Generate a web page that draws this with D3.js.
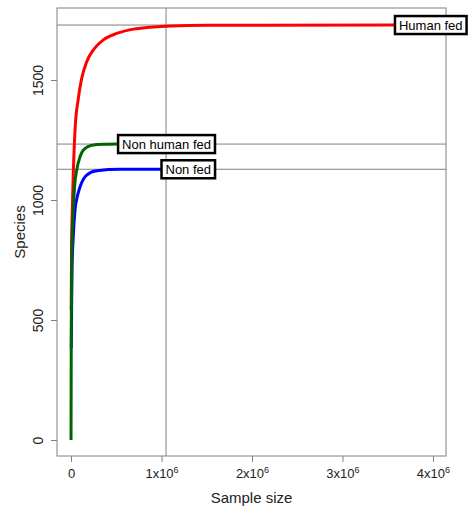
<!DOCTYPE html>
<html><head><meta charset="utf-8">
<script src="https://cdn.jsdelivr.net/npm/d3@7"></script>
<style>body{margin:0;background:#fff;} text{font-family:"Liberation Sans",Arial,sans-serif;}</style>
</head><body>
<svg id="c" width="474" height="512"></svg>
<script>
const seriesNames = ["Human fed", "Non human fed", "Non fed"];
const seriesColors = ["#ff0000", "#006400", "#0000ff"];
const humanFed = [[2000,540],[6000,800],[14000,958],[25000,1110],[44000,1290],[81000,1424],[118000,1507],[173000,1576],[246000,1625],[357000,1667],[505000,1694],[690000,1712],[910000,1721],[1100000,1725],[1500000,1728],[3580000,1729]];
const nonHumanFed = [[0,0],[3000,500],[10000,800],[25000,958],[40000,1060],[63000,1125],[100000,1180],[136000,1208],[246000,1229],[360000,1232],[520000,1233]];
const nonFed = [[3000,383],[10000,700],[25000,850],[44000,958],[70000,1015],[100000,1055],[173000,1104],[284000,1122],[540000,1128],[1000000,1128]];
const hLines = [1729, 1233, 1128];
const vLines = [1050000];
const yTicks = [0, 500, 1000, 1500];
const xTicks = [0, 1e6, 2e6, 3e6, 4e6];
const xTickLabels = ["0", "1x10|6", "2x10|6", "3x10|6", "4x10|6"];

const svg = d3.select("#c");
const L = 57, R = 446, T = 8, B = 456;
const x = d3.scaleLinear().domain([-155000, 4144000]).range([L, R]);
const y = d3.scaleLinear().domain([-66.7, 1800]).range([B, T]);
const grey = "#808080";

// reference lines
svg.selectAll(".hl").data(hLines).enter().append("line")
  .attr("x1", L).attr("x2", R).attr("y1", d => y(d)).attr("y2", d => y(d))
  .attr("stroke", grey).attr("stroke-width", 1);
svg.selectAll(".vl").data(vLines).enter().append("line")
  .attr("x1", d => x(d)).attr("x2", d => x(d)).attr("y1", T).attr("y2", B)
  .attr("stroke", grey).attr("stroke-width", 1);

// box
svg.append("rect").attr("x", L).attr("y", T).attr("width", R - L).attr("height", B - T)
  .attr("fill", "none").attr("stroke", grey).attr("stroke-width", 1);

// axes
const yAxis = d3.axisLeft(y).tickValues(yTicks).tickSize(6).tickPadding(4).tickFormat(d3.format("d"));
const gy = svg.append("g").attr("transform", `translate(${L},0)`).call(yAxis);
gy.select(".domain").remove();
gy.selectAll(".tick line").attr("stroke", grey);
gy.selectAll(".tick text").attr("font-size", 14).attr("fill", "#222")
  .attr("text-anchor", "middle").attr("x", null).attr("dy", null)
  .attr("transform", "translate(-19,0) rotate(-90)").attr("y", 0).attr("dominant-baseline", "central");

const xAxis = d3.axisBottom(x).tickValues(xTicks).tickSize(6).tickFormat(() => "");
const gx = svg.append("g").attr("transform", `translate(0,${B})`).call(xAxis);
gx.select(".domain").remove();
gx.selectAll(".tick line").attr("stroke", grey);
gx.selectAll(".tick text").each(function(d, i) {
  const t = d3.select(this).attr("font-size", 13).attr("fill", "#222").attr("y", 13).attr("dy", "0.71em");
  const parts = xTickLabels[i].split("|");
  t.append("tspan").text(parts[0]);
  if (parts[1]) t.append("tspan").text(parts[1]).attr("font-size", 9).attr("dy", "-0.6em");
});

svg.append("text").attr("x", (L + R) / 2).attr("y", 503).attr("text-anchor", "middle")
  .attr("font-size", 15).attr("fill", "#222").text("Sample size");
svg.append("text").attr("transform", `translate(19,${(T + B) / 2}) rotate(-90)`).attr("text-anchor", "middle")
  .attr("dominant-baseline", "central").attr("font-size", 15).attr("fill", "#222").text("Species");

// curves
const allSeries = [humanFed, nonHumanFed, nonFed];
const line = d3.line().x(d => x(d[0])).y(d => y(d[1])).curve(d3.curveMonotoneX);
const order = [0, 2, 1];
order.forEach(i => {
  svg.append("path").datum(allSeries[i]).attr("d", line)
    .attr("fill", "none").attr("stroke", seriesColors[i]).attr("stroke-width", 3)
    .attr("stroke-linejoin", "round").attr("stroke-linecap", "butt");
});

// labels
allSeries.forEach((s, i) => {
  const last = s[s.length - 1];
  const g = svg.append("g");
  const rect = g.append("rect");
  const t = g.append("text").attr("font-size", 13).attr("fill", "#000")
    .attr("dominant-baseline", "central").text(seriesNames[i]);
  const w = t.node().getComputedTextLength();
  const x0 = x(last[0]), yc = y(last[1]);
  t.attr("x", x0 + 4).attr("y", yc + 0.5);
  rect.attr("x", x0).attr("y", yc - 9).attr("width", w + 8).attr("height", 18)
    .attr("fill", "#fff").attr("stroke", "#000").attr("stroke-width", 2.5);
});
</script>
</body></html>
